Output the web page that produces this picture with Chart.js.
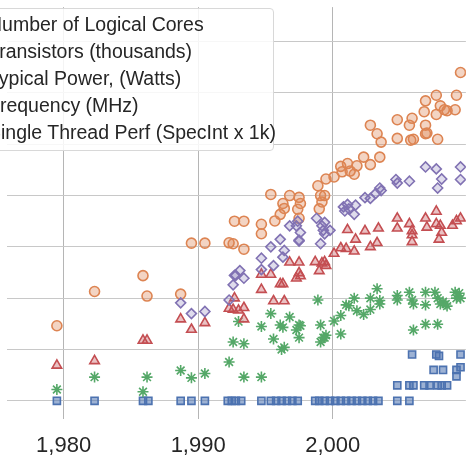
<!DOCTYPE html>
<html><head><meta charset="utf-8">
<script src="https://cdn.jsdelivr.net/npm/chart.js@4/dist/chart.umd.min.js"></script>
<style>
html,body{margin:0;padding:0;background:#fff;overflow:hidden}
#wrap{position:absolute;left:0;top:0;width:473px;height:473px}
#legend{position:absolute;left:-40px;top:8px;width:314px;height:143px;border:1px solid #d8d8d8;border-radius:4px;background:rgba(255,255,255,0.85);font-family:"Liberation Sans",Arial,sans-serif;font-size:19.5px;color:#262626;box-sizing:border-box}
#legend div{position:absolute;left:27px;white-space:nowrap}
</style></head><body>
<div id="wrap"><canvas id="c" width="473" height="473"></canvas></div>
<div id="legend">
<div style="top:4px">Number of Logical Cores</div>
<div style="top:31px">Transistors (thousands)</div>
<div style="top:58px">Typical Power, (Watts)</div>
<div style="top:85px">Frequency (MHz)</div>
<div style="top:112px">Single Thread Perf (SpecInt x 1k)</div>
</div>
<script>
const seriesNames=["Number of Logical Cores","Transistors (thousands)","Typical Power, (Watts)","Frequency (MHz)","Single Thread Perf (SpecInt x 1k)"];
const xTicks=[1980,1990,2000];
const cores=[[1979.5,1],[1982.3,1],[1985.9,1],[1986.3,1],[1988.7,1],[1989.5,1],[1990.5,1],[1992.2,1],[1992.5,1],[1992.8,1],[1993.2,1],[1994.7,1],[1995.4,1],[1995.8,1],[1996.2,1],[1996.6,1],[1997.0,1],[1997.4,1],[1998.7,1],[1999.0,1],[1999.4,1],[1999.8,1],[2000.2,1],[2000.6,1],[2001.0,1],[2001.4,1],[2001.8,1],[2002.2,1],[2002.6,1],[2003.0,1],[2003.4,1],[2004.8,1],[2005.7,1],
[2004.8,2],[2005.7,2],[2006.0,2],[2006.8,2],[2007.2,2],[2007.8,2],[2008.1,2],[2008.5,2],
[2007.5,4],[2008.2,4],[2009.2,4],[2009.2,3],[2005.9,8],[2007.7,8],[2007.9,7.5],[2009.5,8],[2009.5,4.5]];
const transistors=[[1979.5,29],[1982.3,135],[1985.9,275],[1986.2,110],[1988.7,120],[1989.5,1180],[1990.5,1180],[1992.7,3160],[1993.4,3160],[1992.3,1200],[1992.6,1150],[1993.4,900],[1994.7,2760],[1994.7,1800],[1995.4,10500],[1995.7,3200],[1996.1,4300],[1996.3,7000],[1996.4,5600],[1996.8,10000],[1997.5,9200],[1997.4,5400],[1997.6,7000],[1997.5,3600],
[1998.9,15500],[1999.1,10000],[1999.4,10000],[1999.2,7500],[1999.0,5500],[1999.5,21000],[2000.1,23000],[2000.6,37000],[2000.7,29000],[2001.1,42000],[2001.3,30000],[2001.6,26000],[2001.8,38000],[2002.3,56000],[2002.8,40000],[2003.5,56000],
[2002.8,235000],[2003.3,160000],[2003.6,110000],[2004.8,300000],[2004.8,130000],[2005.7,235000],[2005.9,320000],[2005.8,120000],[2006.0,125000],[2006.8,430000],[2006.9,235000],[2006.9,160000],[2006.9,700000],[2007.7,900000],[2007.7,380000],[2008.0,560000],[2008.3,470000],[2008.5,450000],[2009.1,470000],[2009.2,900000],[2009.5,2500000],[2007.8,125000],[2007.0,165000]];
const power=[[1979.5,4.9],[1982.3,6],[1985.9,15],[1986.2,15],[1988.7,39],[1989.5,24.5],[1990.5,33],[1992.3,63],[1992.6,60],[1992.7,100],[1993.0,58],[1993.4,65],[1993.4,39],[1994.7,147],[1994.7,290],[1995.4,290],[1995.6,88],[1996.4,88],[1996.1,190],[1996.3,190],[1996.8,500],[1997.5,500],[1997.3,245],[1997.6,270],[1997.5,310],
[1998.7,510],[1999.0,340],[1999.2,480],[1999.4,510],[1999.5,430],[2000.1,740],[2000.6,950],[2001.0,920],[2001.6,820],[2001.7,1400],[2002.8,1000],[2003.3,1200],[2001.1,2150],[2002.4,2050],[2003.4,2300],[2004.8,3600],[2004.8,2300],[2005.7,2800],[2005.9,2050],[2005.9,1700],[2006.9,3600],[2007.0,2400],[2007.7,4900],[2007.7,2800],[2008.0,2600],[2008.1,1900],[2008.9,2600],[2009.2,3200],[2009.5,3600],[2007.9,1400],[2005.9,1250]];
const frequency=[[1988.7,81],[1989.5,50],[1990.5,55],[1992.3,92],[1992.6,182],[1992.8,278],[1993.1,345],[1993.4,245],[1992.7,278],[1994.7,600],[1994.7,360],[1995.6,430],[1995.4,1000],[1996.1,1400],[1996.3,630],[1996.4,850],[1996.8,2570],[1997.3,2570],[1997.5,1300],[1997.5,1350],[1997.6,1900],[1997.4,3160],[1999.1,1150],[1999.4,1800],
[1998.8,3600],[1999.2,2570],[1999.4,3000],[1999.3,2100],[1999.8,2100],[2000.8,6000],[2001.1,6700],[2001.2,5500],[2001.6,4300],[2001.7,6500],[2000.9,5000],[2002.4,9100],[2002.8,8800],[2003.2,11000],[2003.5,14000],[2003.6,12500],[2004.7,20500],[2004.8,17500],[2005.7,19000],[2006.9,36000],[2007.7,33000],[2007.8,14000],[2008.1,21000],[2009.5,36000],[2009.5,20500]];
const perf=[[1979.5,1.66],[1982.3,2.9],[1985.9,1.5],[1986.2,2.9],[1988.7,3.9],[1989.5,2.8],[1990.5,3.4],[1992.3,5.7],[1992.6,14],[1993.0,35],[1993.4,12.9],[1993.4,2.9],[1994.7,2.9],
[1994.7,28],[1995.4,50],[1995.6,16],[1996.1,30],[1996.3,27],[1996.2,10],[1996.4,11],[1996.8,43],[1997.3,24],[1997.5,30],[1997.6,29],[1997.5,17],[1998.9,92],[1999.1,30],[1999.1,14],[1999.4,17],[1999.5,19],[1999.3,17],
[2000.1,36],[2000.6,46],[2000.6,20],[2001.0,74],[2001.2,71],[2001.6,100],[2001.8,57],[2002.3,48],[2002.8,60],[2002.8,100],[2003.3,153],[2003.5,90],[2003.5,77],[2004.8,113],[2004.8,92],[2005.7,130],[2005.9,92],[2006.0,77],[2006.0,24],[2006.9,130],[2006.9,74],[2006.9,31],[2007.6,130],[2007.8,100],[2007.8,31],[2008.0,77],[2008.2,85],[2008.4,77],[2008.5,70],[2009.1,130],[2009.2,100],[2009.4,125],[2009.5,100]];
function ds(label,data,color,fill,style,r){return {label,data:data.map(p=>({x:p[0],y:p[1]})),pointStyle:style,pointRadius:r,borderColor:color,backgroundColor:fill,pointBorderWidth:1.6,showLine:false};}
new Chart(document.getElementById('c'),{type:'scatter',
data:{datasets:[
ds(seriesNames[3],frequency,'#8172b3','rgba(129,114,179,0.25)','rectRot',5),
ds(seriesNames[1],transistors,'#dd8452','rgba(221,132,82,0.35)','circle',5),
ds(seriesNames[2],power,'#c44e52','rgba(196,78,82,0.35)','triangle',5.5),
ds(seriesNames[4],perf,'#55a868','rgba(85,168,104,0.7)','star',5.5),
ds(seriesNames[0],cores,'#4c72b0','rgba(76,114,176,0.55)','rect',5)]},
options:{responsive:false,animation:false,layout:{padding:0},
plugins:{legend:{display:false},tooltip:{enabled:false}},
scales:{
x:{type:'linear',min:1975.8,max:2009.9,afterBuildTicks:a=>{a.ticks=xTicks.map(v=>({value:v}));},
ticks:{color:'#262626',font:{family:'Liberation Sans',size:22},padding:14},
grid:{color:'#b5b5b5',borderDash:[4,3],drawTicks:false,tickLength:0},border:{display:false}},
y:{type:'logarithmic',min:0.45,max:4.7e7,afterBuildTicks:a=>{a.ticks=[1,10,100,1e3,1e4,1e5,1e6,1e7].map(v=>({value:v}));},
ticks:{display:false},grid:{color:'#c8c8c8',borderDash:[4,3],drawTicks:false,tickLength:0},border:{display:false}}
}}});
</script></body></html>
